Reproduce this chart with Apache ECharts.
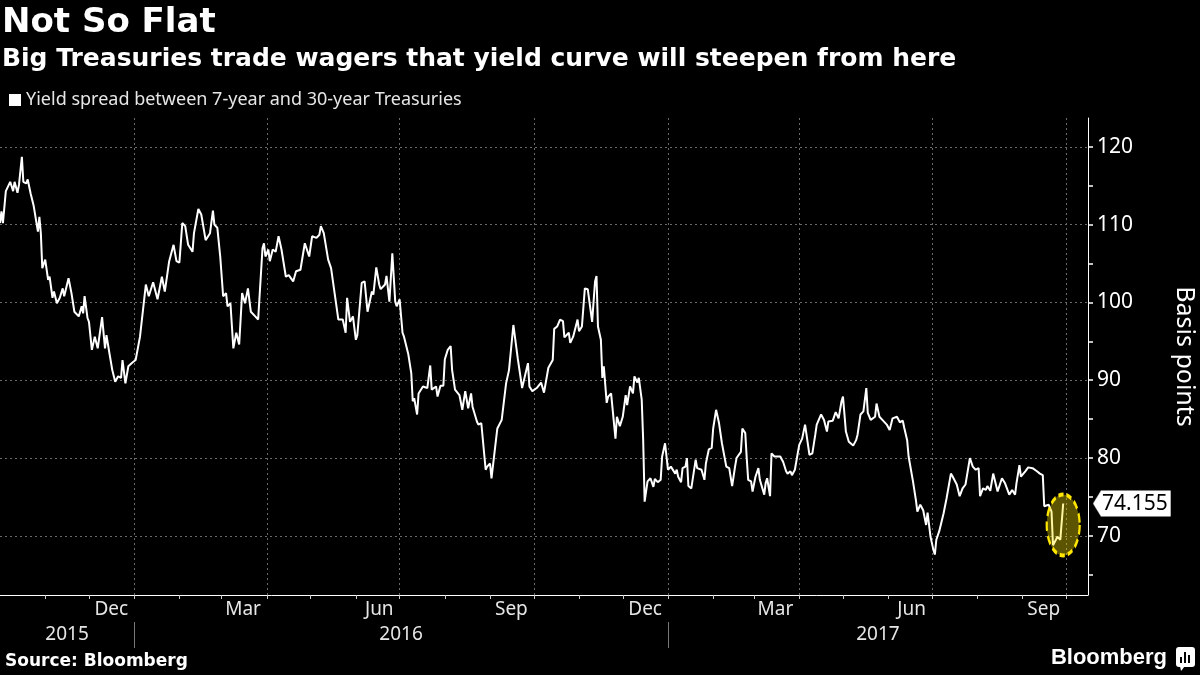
<!DOCTYPE html>
<html>
<head>
<meta charset="utf-8">
<script src="https://cdn.jsdelivr.net/npm/echarts@6/dist/echarts.min.js"></script>
<style>
  html, body { margin: 0; padding: 0; background: #000; }
  #chart { width: 1200px; height: 675px; }
</style>
</head>
<body>
<div id="chart"></div>
<script>
// days counted from 2015-10-01
const dayOffsets = [
  0, 1, 2, 4, 7, 8, 9, 10, 12, 13,
  15, 16, 18, 19, 21, 23, 26, 27, 28, 29,
  31, 33, 34, 36, 37, 39, 41, 43, 44, 47,
  49, 51, 54, 56, 57, 58, 60, 61, 63, 65,
  67, 70, 72, 73, 75, 77, 79, 81, 83, 84,
  86, 88, 91, 93, 96, 100, 102, 105, 108, 111,
  113, 116, 119, 121, 123, 125, 127, 129, 132, 133,
  136, 138, 141, 144, 146, 147, 149, 151, 153, 155,
  156, 158, 160, 162, 164, 166, 168, 170, 172, 175,
  177, 180, 181, 182, 184, 185, 187, 189, 191, 193,
  196, 198, 201, 203, 206, 209, 210, 212, 214, 217,
  219, 220, 222, 225, 227, 232, 233, 235, 237, 238,
  240, 242, 244, 245, 248, 250, 252, 255, 256, 258,
  260, 261, 264, 265, 267, 269, 271, 272, 274, 276,
  277, 280, 282, 283, 284, 286, 287, 290, 293, 295,
  296, 299, 300, 302, 304, 305, 307, 309, 310, 312,
  315, 317, 319, 321, 323, 324, 327, 328, 330, 333,
  334, 336, 337, 339, 341, 344, 347, 349, 352, 355,
  356, 358, 362, 363, 365, 368, 369, 371, 373, 376,
  377, 379, 380, 382, 384, 386, 387, 388, 390, 391,
  393, 396, 397, 399, 401, 403, 406, 408, 409, 410,
  412, 413, 414, 416, 417, 419, 422, 423, 425, 427,
  429, 430, 432, 434, 435, 437, 438, 440, 441, 442,
  444, 446, 448, 449, 451, 453, 454, 456, 458, 460,
  463, 464, 465, 467, 468, 470, 471, 472, 474, 475,
  477, 478, 481, 483, 484, 486, 488, 489, 491, 493,
  495, 498, 500, 502, 504, 505, 508, 509, 511, 512,
  513, 515, 516, 518, 520, 521, 524, 525, 526, 528,
  529, 531, 533, 535, 537, 539, 540, 542, 543, 545,
  546, 548, 550, 552, 553, 555, 557, 559, 560, 563,
  565, 567, 568, 571, 573, 575, 577, 578, 580, 582,
  583, 585, 587, 588, 590, 592, 594, 595, 597, 600,
  601, 603, 605, 608, 610, 612, 615, 617, 619, 620,
  622, 623, 624, 626, 628, 629, 631, 633, 635, 636,
  638, 640, 641, 642, 644, 647, 649, 652, 653, 656,
  658, 660, 662, 665, 667, 669, 671, 672, 674, 676,
  677, 679, 681, 684, 687, 689, 690, 692, 694, 696,
  697, 699, 700, 703, 705, 708, 711, 713, 715, 716,
  717, 719, 721, 722, 724, 725, 727, 729
];

// spread in basis points
const spread = [
  110.2, 111.7, 110.2, 114.3, 115.5, 115.5, 114.3, 115.5, 114.1, 115.1,
  118.7, 115.5, 115.3, 115.8, 114.0, 112.5, 109.1, 111.0, 108.9, 104.4,
  105.5, 102.9, 103.3, 100.6, 101.4, 99.9, 100.6, 101.8, 100.8, 103.1,
  101.2, 98.8, 98.2, 99.5, 98.6, 100.8, 98.0, 97.5, 93.9, 95.6,
  94.1, 98.1, 94.1, 95.8, 93.5, 91.3, 89.8, 90.5, 90.3, 92.6,
  89.6, 91.8, 92.3, 92.6, 95.6, 102.3, 100.8, 102.6, 100.4, 103.3,
  101.4, 105.3, 107.4, 105.3, 105.1, 110.2, 109.8, 107.4, 106.5, 108.9,
  112.0, 111.3, 108.0, 108.9, 111.8, 110.0, 109.6, 105.9, 100.8, 101.2,
  99.5, 99.9, 94.1, 96.1, 94.6, 101.2, 99.9, 101.8, 98.8, 98.2,
  97.8, 107.0, 107.6, 105.9, 106.8, 105.3, 106.8, 106.5, 108.5, 106.8,
  103.3, 103.5, 102.7, 104.0, 104.2, 107.6, 107.8, 105.9, 108.5, 108.3,
  108.7, 109.8, 108.9, 105.5, 104.4, 97.8, 98.0, 97.8, 96.1, 100.6,
  97.5, 98.2, 95.2, 95.8, 102.5, 102.7, 98.8, 101.4, 101.0, 104.5,
  102.3, 101.7, 102.3, 103.4, 100.1, 106.3, 100.1, 99.5, 100.4, 96.1,
  95.6, 93.3, 90.9, 87.3, 87.7, 85.6, 88.3, 89.2, 89.0, 91.9,
  88.8, 89.2, 87.9, 89.3, 89.3, 92.7, 93.9, 94.4, 91.3, 88.8,
  88.1, 86.2, 88.6, 86.4, 88.3, 86.6, 84.7, 84.3, 84.5, 78.5,
  78.9, 79.3, 77.4, 80.6, 83.8, 84.9, 89.6, 91.3, 97.1, 92.8,
  92.6, 89.0, 92.2, 89.2, 88.6, 89.0, 88.8, 89.7, 88.4, 91.6,
  91.8, 92.6, 96.6, 96.9, 97.8, 97.6, 95.5, 95.4, 96.1, 94.8,
  95.6, 97.8, 96.3, 96.9, 101.8, 101.7, 97.5, 102.7, 103.4, 96.9,
  95.2, 90.3, 91.8, 87.1, 87.9, 88.3, 82.5, 85.3, 84.1, 85.3,
  88.1, 86.8, 89.2, 88.3, 90.5, 89.7, 90.3, 87.5, 82.3, 74.4,
  77.0, 77.4, 76.3, 77.3, 76.9, 77.2, 80.2, 81.9, 78.5, 78.9,
  78.0, 78.5, 77.6, 76.9, 78.7, 78.9, 80.0, 76.4, 76.1, 76.0,
  79.8, 78.7, 78.5, 77.2, 79.3, 81.1, 81.3, 83.8, 86.2, 84.5,
  81.9, 78.9, 78.7, 76.4, 78.9, 80.0, 80.8, 83.8, 83.2, 80.0,
  77.2, 77.0, 75.7, 77.6, 78.7, 77.2, 75.3, 76.8, 77.4, 75.1,
  80.6, 80.2, 80.2, 80.2, 79.5, 78.3, 78.0, 78.3, 77.8, 78.5,
  78.5, 81.7, 82.5, 84.3, 84.1, 80.4, 80.6, 83.0, 84.3, 85.6,
  84.9, 83.4, 84.7, 84.8, 85.9, 85.1, 87.3, 87.9, 83.4, 82.1,
  82.3, 81.6, 82.3, 83.0, 85.6, 86.0, 89.0, 85.8, 84.9, 85.3,
  87.0, 85.3, 84.9, 84.3, 83.6, 85.1, 85.3, 84.6, 84.8, 83.9,
  82.3, 80.2, 80.4, 77.0, 74.6, 73.1, 74.0, 73.3, 71.4, 73.0,
  69.9, 68.2, 67.6, 69.5, 70.6, 72.9, 74.8, 78.0, 77.7, 76.6,
  75.1, 76.1, 76.6, 80.0, 78.9, 78.5, 78.7, 75.1, 76.1, 75.9,
  76.4, 75.8, 78.0, 75.7, 77.4, 76.8, 76.8, 75.3, 75.9, 75.3,
  76.8, 79.1, 77.6, 78.3, 78.8, 78.7, 78.3, 78.0, 77.8, 73.8,
  73.6, 74.0, 73.1, 68.8, 69.5, 69.9, 69.5, 74.155
];

const seriesName = 'Yield spread between 7-year and 30-year Treasuries';
const monthNames = ['Jan', 'Feb', 'Mar', 'Apr', 'May', 'Jun', 'Jul', 'Aug', 'Sep', 'Oct', 'Nov', 'Dec'];
const yLabels = [70, 80, 90, 100, 110, 120];
const yTicks = [65, 70, 75, 80, 85, 90, 95, 100, 105, 110, 115, 120];
const yMin = 62.4;
const yMax = 123.7;
const spanDays = 746;          // axis runs to mid October 2017
const highlightValue = 71.4;   // centre of the yellow ring

const DAY = 86400000;
const START = Date.UTC(2015, 9, 1);
const lastValue = spread[spread.length - 1];
const lastDay = dayOffsets[dayOffsets.length - 1];

function dayToDate(d) {
  return new Date(START + d * DAY);
}

// month starts, quarter starts, year starts (as day offsets)
const monthTicks = [];
for (let m = 10; ; m++) {
  const d = Math.round((Date.UTC(2015, m, 1) - START) / DAY);
  if (d > spanDays) break;
  monthTicks.push(d);
}
const quarterTicks = monthTicks.filter(d => dayToDate(d).getUTCMonth() % 3 === 0);
const yearStarts = monthTicks.filter(d => dayToDate(d).getUTCMonth() === 0);
const yearBounds = [0].concat(yearStarts, [spanDays]);
const yearMids = [];
for (let i = 0; i < yearBounds.length - 1; i++) {
  yearMids.push((yearBounds[i] + yearBounds[i + 1]) / 2);
}

// little arrow on the left of the last value tag
const arrowCanvas = document.createElement('canvas');
arrowCanvas.width = 8;
arrowCanvas.height = 26;
const actx = arrowCanvas.getContext('2d');
actx.fillStyle = '#fff';
actx.beginPath();
actx.moveTo(8, 0);
actx.lineTo(0, 13);
actx.lineTo(8, 26);
actx.closePath();
actx.fill();

const FONT = 'Noto Sans';
const BOLD = 'DejaVu Sans';
const GRID_LINE = { show: true, lineStyle: { color: '#6a6a6a', width: 1, type: [2, 3] } };

const chart = echarts.init(document.getElementById('chart'));

chart.setOption({
  backgroundColor: '#000',
  animation: false,
  title: [
    {
      text: 'Not So Flat', left: 2, top: 6, padding: 0,
      textStyle: { color: '#fff', fontSize: 34, fontWeight: 'bold', fontFamily: BOLD }
    },
    {
      text: 'Big Treasuries trade wagers that yield curve will steepen from here', left: 2, top: 47, padding: 0,
      textStyle: { color: '#fff', fontSize: 25, fontWeight: 'bold', fontFamily: BOLD }
    },
    {
      text: 'Source: Bloomberg', left: 5, top: 653, padding: 0,
      textStyle: { color: '#fff', fontSize: 17, fontWeight: 'bold', fontFamily: BOLD }
    },
    {
      text: 'Bloomberg', right: 33, top: 647, padding: 0,
      textStyle: { color: '#fff', fontSize: 22, fontWeight: 'bold', fontFamily: 'Liberation Sans' }
    }
  ],
  graphic: [
    {
      type: 'group', right: 5, bottom: 4,
      children: [
        { type: 'rect', shape: { x: 0, y: 0, width: 19, height: 20, r: 3 }, style: { fill: '#fff' } },
        { type: 'polygon', shape: { points: [[4, 19], [9, 19], [5, 24]] }, style: { fill: '#fff' } },
        { type: 'rect', shape: { x: 4, y: 10, width: 2, height: 6 }, style: { fill: '#000' } },
        { type: 'rect', shape: { x: 8, y: 5, width: 2, height: 11 }, style: { fill: '#000' } },
        { type: 'rect', shape: { x: 12, y: 8, width: 2, height: 8 }, style: { fill: '#000' } }
      ]
    }
  ],
  legend: {
    left: 9, top: 91, padding: 0,
    icon: 'rect', itemWidth: 12, itemHeight: 12,
    textStyle: { color: '#e6e6e6', fontSize: 18, fontFamily: FONT },
    data: [{ name: seriesName, itemStyle: { color: '#fff' } }]
  },
  grid: { left: 0, right: 112, top: 118, bottom: 80, outerBoundsMode: 'none' },
  xAxis: [
    {
      type: 'value', min: 0, max: spanDays, position: 'bottom',
      axisLine: { show: true, onZero: false, lineStyle: { color: '#fff', width: 1 } },
      axisTick: { show: true, customValues: monthTicks, length: 4, lineStyle: { color: '#ccc' } },
      axisLabel: {
        customValues: quarterTicks,
        formatter: v => monthNames[dayToDate(v - 1).getUTCMonth()],
        align: 'right', padding: [0, 6, 0, 0], margin: 5,
        color: '#e6e6e6', fontSize: 19, fontFamily: FONT
      },
      splitLine: { show: false }
    },
    {
      // vertical grid lines at quarter starts
      type: 'value', min: 0, max: spanDays, position: 'top',
      axisLine: { show: false, onZero: false },
      axisTick: { show: false, customValues: quarterTicks },
      axisLabel: { show: false },
      splitLine: GRID_LINE
    },
    {
      type: 'value', min: 0, max: spanDays, position: 'bottom', offset: 27,
      axisLine: { show: false, onZero: false },
      axisTick: { show: true, customValues: yearStarts, length: 26, lineStyle: { color: '#777' } },
      axisLabel: {
        customValues: yearMids,
        formatter: v => String(dayToDate(v).getUTCFullYear()),
        margin: 3, color: '#e6e6e6', fontSize: 19, fontFamily: FONT
      },
      splitLine: { show: false }
    }
  ],
  yAxis: [
    {
      type: 'value', position: 'right', min: yMin, max: yMax,
      axisLine: { show: true, onZero: false, lineStyle: { color: '#fff', width: 1 } },
      axisTick: { show: true, inside: false, customValues: yTicks, length: 5, lineStyle: { color: '#fff', width: 1.5 } },
      axisLabel: { customValues: yLabels, color: '#fff', fontSize: 21, margin: 9, fontFamily: FONT },
      splitLine: { show: false },
      name: 'Basis points', nameLocation: 'middle', nameRotate: -90, nameGap: 84,
      nameTextStyle: { color: '#fff', fontSize: 25, fontFamily: FONT }
    },
    {
      // horizontal grid lines only
      type: 'value', position: 'left', min: yMin, max: yMax,
      axisLine: { show: false, onZero: false },
      axisTick: { show: false, customValues: yLabels },
      axisLabel: { show: false },
      splitLine: GRID_LINE
    },
    {
      type: 'value', position: 'right', min: yMin, max: yMax,
      axisLine: { show: false, onZero: false },
      axisTick: { show: false },
      splitLine: { show: false },
      axisLabel: {
        customValues: [lastValue], margin: 5,
        formatter: v => '{arrow| }{tag|' + v + '}',
        rich: {
          arrow: { width: 8, height: 26, backgroundColor: { image: arrowCanvas } },
          tag: {
            backgroundColor: '#fff', color: '#000', fontSize: 21, fontFamily: FONT,
            height: 26, lineHeight: 26, padding: [0, 3, 0, 1]
          }
        }
      }
    }
  ],
  series: [
    {
      name: seriesName,
      type: 'line',
      xAxisIndex: 0,
      yAxisIndex: 0,
      data: dayOffsets.map((d, i) => [d, spread[i]]),
      showSymbol: false,
      silent: true,
      itemStyle: { color: '#fff' },
      lineStyle: { color: '#fff', width: 2 },
      markPoint: {
        silent: true,
        symbol: 'circle',
        symbolSize: [33, 61],
        label: { show: false },
        itemStyle: {
          color: 'rgba(255, 232, 0, 0.36)',
          borderColor: '#ffe600',
          borderWidth: 3,
          borderType: [7, 4]
        },
        data: [{ coord: [lastDay, highlightValue] }]
      }
    }
  ]
});
</script>
</body>
</html>
